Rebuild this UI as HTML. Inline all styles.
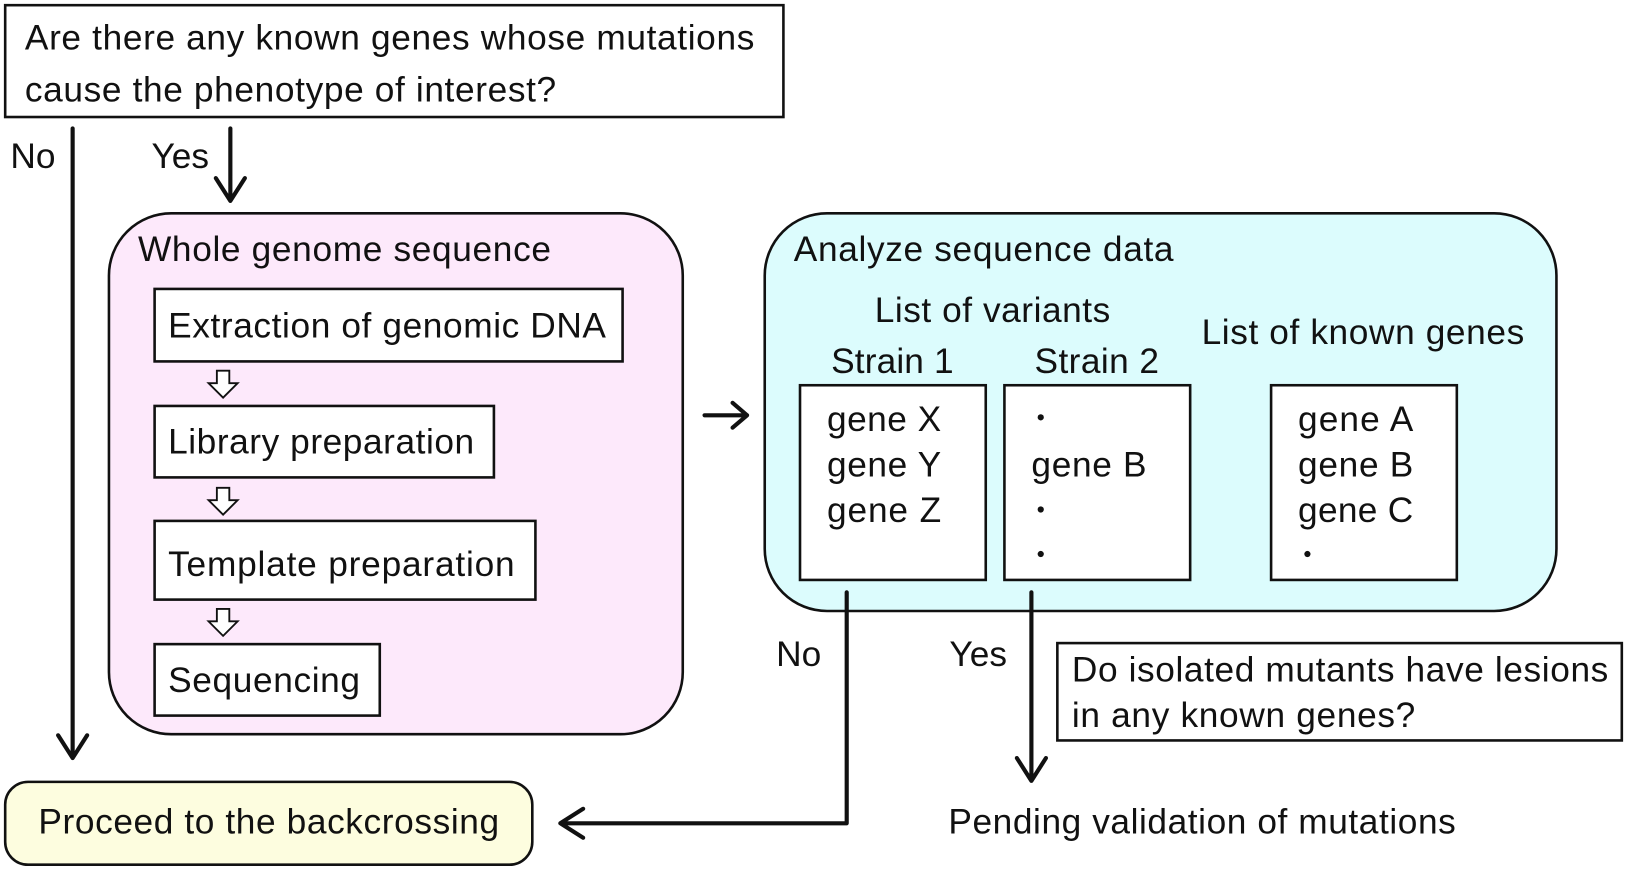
<!DOCTYPE html>
<html><head><meta charset="utf-8"><style>
html,body{margin:0;padding:0;background:#fff;width:1627px;height:873px;overflow:hidden}
svg{display:block}
text{font-family:"Liberation Sans",Arial,sans-serif;font-size:34px;fill:#111}
</style></head><body>
<svg width="1627" height="873" viewBox="0 0 1568 843" preserveAspectRatio="none" xmlns="http://www.w3.org/2000/svg">
<g fill="none" stroke="#111" stroke-width="2.5">
<rect x="5" y="5" width="750" height="108" fill="#fff"/>
<rect x="105" y="206" width="553" height="503" rx="60" fill="#fde9fb"/>
<rect x="737" y="206" width="763" height="384" rx="60" fill="#dcfcfd"/>
<rect x="149" y="279" width="451" height="70" fill="#fff"/>
<rect x="149" y="392" width="327" height="69" fill="#fff"/>
<rect x="149" y="503" width="367" height="76" fill="#fff"/>
<rect x="149" y="622" width="217" height="69" fill="#fff"/>
<rect x="771" y="372" width="179" height="188" fill="#fff"/>
<rect x="968" y="372" width="179" height="188" fill="#fff"/>
<rect x="1225" y="372" width="179" height="188" fill="#fff"/>
<rect x="1019" y="621" width="544" height="94" fill="#fff"/>
<rect x="5" y="755" width="508" height="80" rx="22" fill="#fdfddf"/>
</g>
<g fill="none" stroke="#111" stroke-width="4" stroke-linecap="round" stroke-linejoin="round">
<path d="M70 124V732M56 710L70 732L84 710"/>
<path d="M222 124V194M208 172L222 194L236 172"/>
<path d="M679 401H720M706 389L720 401L706 413"/>
<path d="M816 572V795H540M562 781L540 795L562 809"/>
<path d="M994 572V754M980 732L994 754L1008 732"/>
</g>
<g fill="#fff" stroke="#111" stroke-width="1.8">
<path d="M209 358h12v12h8l-14 14l-14-14h8z"/>
<path d="M209 471h12v12h8l-14 14l-14-14h8z"/>
<path d="M209 588h12v12h8l-14 14l-14-14h8z"/>
</g>
<text x="24" y="48" textLength="703">Are there any known genes whose mutations</text>
<text x="24" y="98" textLength="512">cause the phenotype of interest?</text>
<text x="10" y="162">No</text>
<text x="146" y="162">Yes</text>
<text x="133" y="252" textLength="398">Whole genome sequence</text>
<text x="162" y="326" textLength="422">Extraction of genomic DNA</text>
<text x="162" y="438" textLength="295">Library preparation</text>
<text x="162" y="556" textLength="334">Template preparation</text>
<text x="162" y="668" textLength="185">Sequencing</text>
<text x="765" y="252" textLength="366">Analyze sequence data</text>
<text x="843" y="311" textLength="227">List of variants</text>
<text x="801" y="360" textLength="118">Strain 1</text>
<text x="997" y="360" textLength="120">Strain 2</text>
<text x="1158" y="332" textLength="311">List of known genes</text>
<text x="797" y="416" textLength="110">gene X</text>
<text x="797" y="460" textLength="110">gene Y</text>
<text x="797" y="504" textLength="110">gene Z</text>
<text x="994" y="460" textLength="111">gene B</text>
<text x="1251" y="416" textLength="111">gene A</text>
<text x="1251" y="460" textLength="111">gene B</text>
<text x="1251" y="504" textLength="111">gene C</text>
<g fill="#111"><circle cx="1003" cy="403" r="3"/><circle cx="1003" cy="492" r="3"/><circle cx="1003" cy="535" r="3"/><circle cx="1260" cy="535" r="3"/></g>
<text x="748" y="643">No</text>
<text x="915" y="643">Yes</text>
<text x="1033" y="658" textLength="517">Do isolated mutants have lesions</text>
<text x="1033" y="702" textLength="331">in any known genes?</text>
<text x="914" y="805" textLength="489">Pending validation of mutations</text>
<text x="37" y="805" textLength="444">Proceed to the backcrossing</text>
</svg>
</body></html>
